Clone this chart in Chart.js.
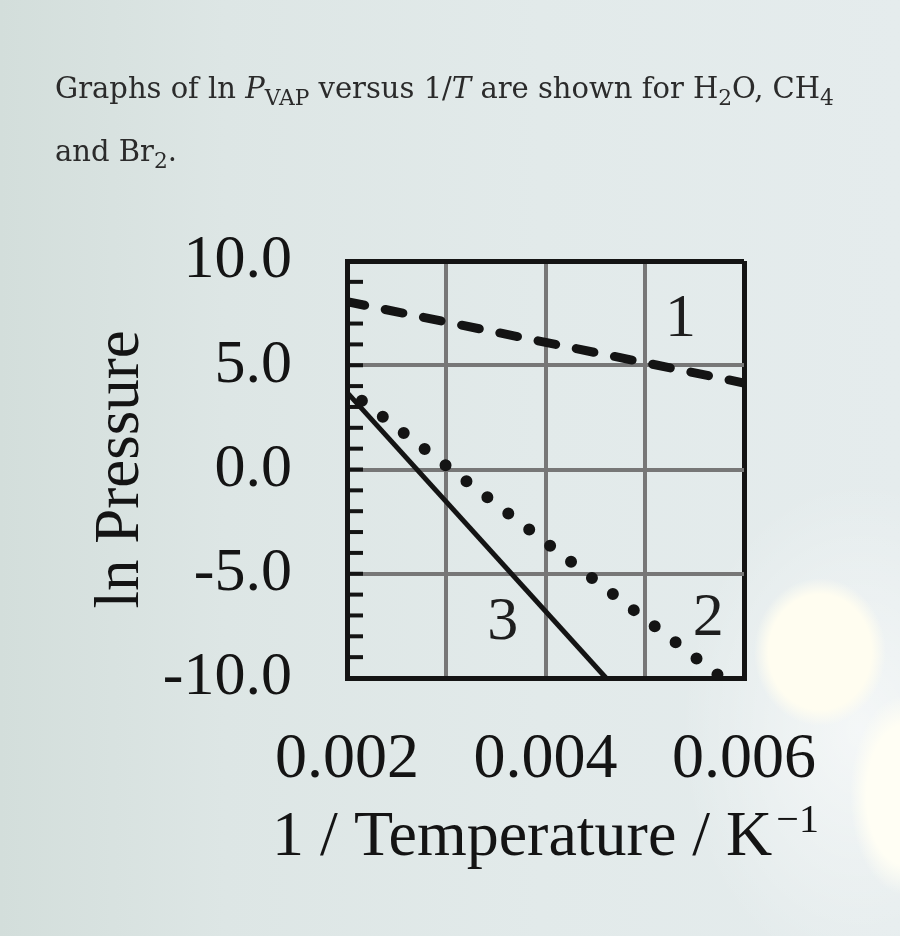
<!DOCTYPE html>
<html>
<head>
<meta charset="utf-8">
<script src="https://cdn.jsdelivr.net/npm/chart.js@4.4.1/dist/chart.umd.min.js"></script>
<style>
  html, body { margin: 0; padding: 0; width: 900px; height: 936px; overflow: hidden; }
  body {
    position: relative;
    background:
      radial-gradient(ellipse 66px 74px at 820px 652px, rgba(255,253,240,1) 0, rgba(255,253,240,1) 78%, rgba(255,255,255,0) 100%),
      radial-gradient(ellipse 55px 100px at 905px 795px, rgba(255,254,244,1) 0, rgba(255,254,244,1) 70%, rgba(255,255,255,0) 100%),
      radial-gradient(ellipse 180px 250px at 860px 730px, rgba(255,255,255,0.6) 0, rgba(255,255,255,0) 100%),
      linear-gradient(90deg, #d3dedb 0%, #dde6e5 25%, #e2eaea 60%, #e5eced 100%);
  }
  #q {
    position: absolute; left: 55px; top: 57px;
    font-family: "DejaVu Serif", serif;
    font-size: 29px; line-height: 63px; color: #2b2b2b;
  }
  #q sub { font-size: 0.75em; line-height: 0; vertical-align: -0.32em; }
  #myChart { position: absolute; left: 0; top: 0; }
</style>
</head>
<body>
<canvas id="myChart" width="900" height="936"></canvas>
<div id="q">Graphs of ln <i>P</i><sub>VAP</sub> versus 1/<i>T</i> are shown for H<sub>2</sub>O, CH<sub>4</sub><br>and Br<sub>2</sub>.</div>
<script>
// axis ranges and labelled ticks
const xMin = 0.002, xMax = 0.006, xStep = 0.001;
const yMin = -10, yMax = 10, yStep = 1;
const xLabelValues = [0.002, 0.004, 0.006];
const xLabels = ['0.002', '0.004', '0.006'];
const yLabelValues = [10, 5, 0, -5, -10];
const yLabels = ['10.0', '5.0', '0.0', '-5.0', '-10.0'];
const xTitleMain = '1 / Temperature / K';
const xTitleSup = '\u22121';
const yTitle = 'ln Pressure';

// curves
const line1X = [0.002, 0.006];
const line1Y = [8.05, 4.15];
const line2X = [0.00215, 0.00575];
const line2Y = [3.3, -9.9];
const line3X = [0.002, 0.00461];
const line3Y = [3.7, -10.0];

// curve numbers
const tagNames = ['1', '2', '3'];
const tagX = [0.00536, 0.00564, 0.00357];
const tagY = [7.2, -7.15, -7.35];

const ink = '#141414';
const gridGray = '#777777';
const serif = '"Liberation Serif", "Times New Roman", serif';

function pts(xs, ys) {
    return xs.map((x, i) => ({ x: x, y: ys[i] }));
}

function labelFor(values, labels, v) {
    const i = values.findIndex(val => Math.abs(val - v) < 1e-9);
    return i >= 0 ? labels[i] : '';
}

const extras = {
    id: 'extras',
    beforeDatasetsDraw(chart) {
        const { ctx, chartArea, scales: { y } } = chart;
        ctx.save();
        ctx.strokeStyle = ink;
        ctx.lineWidth = 4;
        // small ticks on the left axis, pointing into the plot
        y.ticks.forEach(t => {
            const py = y.getPixelForValue(t.value);
            ctx.beginPath();
            ctx.moveTo(chartArea.left, py);
            ctx.lineTo(chartArea.left + 16, py);
            ctx.stroke();
        });
        ctx.restore();
    },
    afterDatasetsDraw(chart) {
        const { ctx, chartArea, scales: { x, y } } = chart;
        ctx.save();
        ctx.fillStyle = '#1e1e1e';
        ctx.font = '62px ' + serif;
        ctx.textAlign = 'center';
        ctx.textBaseline = 'middle';
        tagNames.forEach((n, i) => {
            ctx.fillText(n, x.getPixelForValue(tagX[i]), y.getPixelForValue(tagY[i]));
        });

        // x axis title with a real superscript (chart.js would squeeze it to the axis width)
        ctx.fillStyle = ink;
        ctx.textAlign = 'left';
        ctx.textBaseline = 'alphabetic';
        ctx.font = '64px ' + serif;
        const w1 = ctx.measureText(xTitleMain).width;
        ctx.font = '40px ' + serif;
        const w2 = ctx.measureText(xTitleSup).width;
        const startX = (chartArea.left + chartArea.right) / 2 - (w1 + 4 + w2) / 2;
        const baseY = chartArea.bottom + 177;
        ctx.font = '64px ' + serif;
        ctx.fillText(xTitleMain, startX, baseY);
        ctx.font = '40px ' + serif;
        ctx.fillText(xTitleSup, startX + w1 + 4, baseY - 23);
        ctx.restore();
    }
};

const isEdgeX = v => Math.abs(v - xMin) < 1e-9 || Math.abs(v - xMax) < 1e-9;
const isEdgeY = v => v === yMin || v === yMax;

const ctx = document.getElementById('myChart').getContext('2d');

new Chart(ctx, {
    type: 'scatter',
    data: {
        datasets: [
            {
                label: '1',
                data: pts(line1X, line1Y),
                showLine: true,
                borderColor: ink,
                borderWidth: 9,
                borderDash: [18, 21],
                borderCapStyle: 'round',
                pointRadius: 0
            },
            {
                label: '2',
                data: pts(line2X, line2Y),
                showLine: true,
                borderColor: ink,
                borderWidth: 12,
                borderDash: [0, 26.4],
                borderCapStyle: 'round',
                pointRadius: 0,
                clip: 8
            },
            {
                label: '3',
                data: pts(line3X, line3Y),
                showLine: true,
                borderColor: ink,
                borderWidth: 5,
                pointRadius: 0
            }
        ]
    },
    options: {
        responsive: false,
        animation: false,
        layout: {
            padding: { top: 261, right: 156, bottom: 0, left: 0 }
        },
        plugins: {
            legend: { display: false },
            tooltip: { enabled: false }
        },
        scales: {
            x: {
                type: 'linear',
                min: xMin,
                max: xMax,
                afterFit: s => { s.height = 258; },
                ticks: {
                    stepSize: xStep,
                    autoSkip: false,
                    minRotation: 0,
                    maxRotation: 0,
                    padding: 44,
                    color: ink,
                    font: { family: serif, size: 64 },
                    callback: v => labelFor(xLabelValues, xLabels, v)
                },
                grid: {
                    drawTicks: false,
                    color: c => isEdgeX(c.tick.value) ? ink : gridGray,
                    lineWidth: c => isEdgeX(c.tick.value) ? 5 : 4
                },
                border: { color: ink, width: 5 }
            },
            y: {
                type: 'linear',
                min: yMin,
                max: yMax,
                afterFit: s => { s.width = 347; },
                ticks: {
                    stepSize: yStep,
                    autoSkip: false,
                    padding: 55,
                    color: ink,
                    font: { family: serif, size: 62 },
                    callback: v => labelFor(yLabelValues, yLabels, v)
                },
                grid: {
                    drawTicks: false,
                    color: c => isEdgeY(c.tick.value) ? ink : (c.tick.value % 5 === 0 ? gridGray : 'rgba(0,0,0,0)'),
                    lineWidth: c => isEdgeY(c.tick.value) ? 5 : 4
                },
                border: { color: ink, width: 5 },
                title: {
                    display: true,
                    text: yTitle,
                    color: ink,
                    font: { family: serif, size: 63 },
                    padding: { top: 84, bottom: 0 }
                }
            }
        }
    },
    plugins: [extras]
});
</script>
</body>
</html>
